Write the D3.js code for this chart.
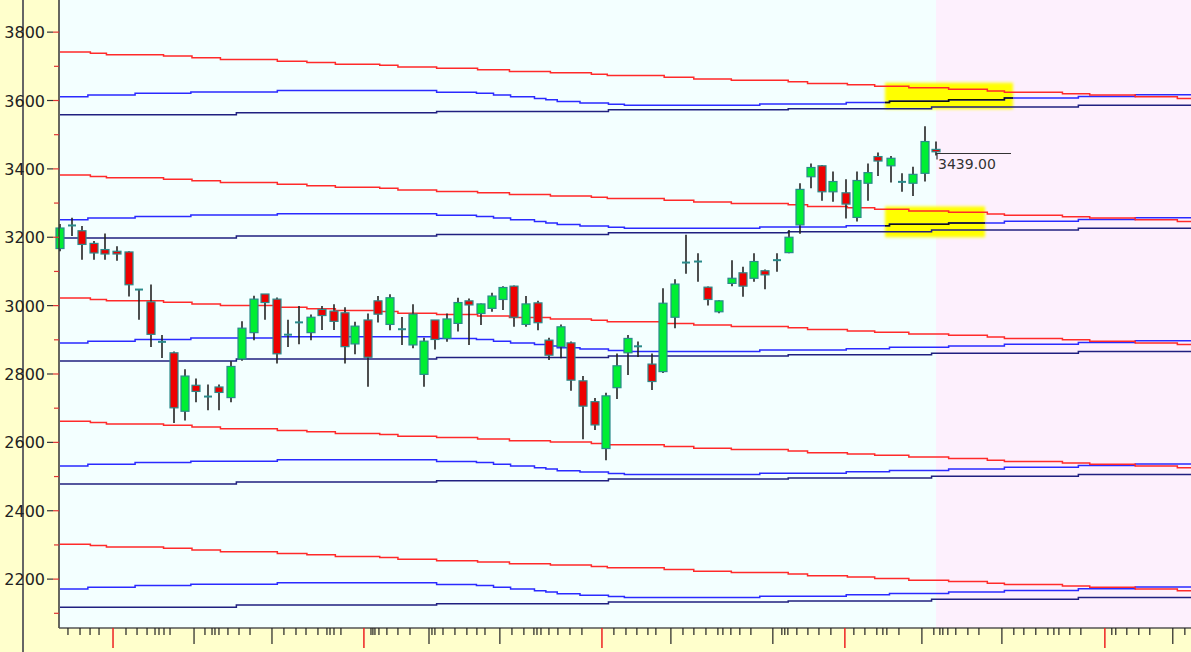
<!DOCTYPE html>
<html><head><meta charset="utf-8">
<script src="https://cdn.jsdelivr.net/npm/d3@7"></script>
<style>body{margin:0;background:#ffffcc}svg{display:block}</style>
</head><body><svg id="c" width="1191" height="652"></svg>
<script>
// candles: [open, high, low, close]
const candles = [
[3167,3239,3159,3227],[3233,3257,3204,3236],[3219,3233,3134,3179],[3182,3189,3134,3154],[3164,3211,3134,3151],
[3159,3174,3131,3151],[3157,3159,3027,3061],[3047,3047,2959,3047],[3011,3062,2879,2916],[2894,2914,2847,2894],
[2862,2866,2657,2701],[2691,2814,2664,2794],[2767,2787,2717,2749],[2734,2769,2694,2734],[2762,2769,2694,2746],
[2731,2837,2717,2822],[2844,2954,2839,2934],[2921,3029,2899,3019],[3034,3034,2959,3009],[3019,3024,2831,2859],
[2915,2959,2879,2915],[2951,2999,2887,2951],[2921,2974,2899,2966],[2989,2999,2929,2971],[2984,3004,2929,2954],
[2979,2995,2831,2880],[2888,2953,2858,2940],[2958,2977,2763,2849],[3014,3028,2951,2975],[2945,3033,2928,3023],
[2931,2967,2885,2931],[2885,3004,2875,2975],[2799,2906,2763,2896],[2958,2958,2872,2901],[2904,2977,2894,2961],
[2948,3023,2924,3009],[3014,3021,2885,3002],[2977,3006,2943,3005],[2992,3038,2982,3028],[3018,3057,2987,3053],
[3057,3059,2938,2966],[2945,3028,2938,3005],[3008,3014,2928,2950],[2899,2906,2841,2855],[2880,2945,2846,2938],
[2891,2895,2751,2782],[2780,2794,2609,2706],[2719,2730,2636,2651],[2582,2745,2548,2736],[2760,2860,2727,2824],
[2862,2914,2797,2904],[2882,2895,2850,2880],[2829,2860,2753,2778],[2807,3051,2803,3007],[2966,3077,2934,3063],
[3126,3207,3093,3126],[3129,3153,3070,3129],[3054,3056,3000,3018],[2982,3016,2978,3014],[3065,3133,3057,3080],
[3096,3114,3026,3057],[3080,3153,3070,3129],[3102,3106,3048,3090],[3133,3153,3099,3133],[3155,3221,3153,3200],
[3236,3358,3210,3340],[3377,3416,3343,3404],[3409,3411,3307,3333],[3333,3392,3304,3363],[3330,3370,3255,3297],
[3258,3392,3246,3366],[3358,3416,3307,3389],[3436,3448,3379,3423],[3409,3438,3360,3431],[3362,3387,3333,3362],
[3358,3406,3321,3384],[3387,3525,3363,3480],[3457,3480,3439,3450]
];
const candleX = [60,72,82,94,105,117,129,139,151,162,174,185,196,208,219,231,242,254,265,277,288,299,311,322,334,345,
355,368,378,390,402,413,424,435,447,458,469,481,492,503,514,526,538,549,561,571,583,595,606,617,628,638,
652,663,675,686,698,708,719,732,743,754,765,777,789,800,811,822,833,846,857,868,878,891,902,913,925,936];
const lastLabel = "3439.00", lastValue = 3445;
const yTicks = [2200,2400,2600,2800,3000,3200,3400,3600,3800];
const yMinor = [2100,2300,2500,2700,2900,3100,3300,3500,3700];
// band lines (top group), step breakpoints [slot, value]
const redLine = [[0,3742],[2.67,3738],[4.08,3734],[9.1,3730],[11.6,3725],[14.1,3720],[19.1,3715],[21.7,3711],[24.2,3706],[28.1,3703],[29.7,3698],[33.1,3694],[36.7,3690],[39.5,3685],[43.1,3681],[46.7,3677],[48.1,3673],[53.1,3668],[55.7,3663],[59,3659],[64,3655],[65.7,3650],[69.2,3646],[71.6,3642],[74.6,3637],[78.1,3633],[81.5,3628],[83,3624],[88.1,3620],[90.5,3616],[94.5,3611],[98.2,3606],[99.5,3606]];
const blueLine = [[0,3611],[2.45,3616],[6.6,3621],[11.5,3625],[19.1,3629],[33.1,3624],[36.6,3621],[38.1,3616],[39.6,3611],[41.7,3606],[42.7,3602],[43.7,3597],[45.7,3593],[48.2,3589],[49.6,3586],[61.5,3590],[69.1,3594],[72.9,3598],[78.1,3602],[83,3607],[89.5,3612],[94.5,3617],[99.5,3617]];
const navyLine = [[0,3558],[15.5,3564],[33.1,3568],[48.2,3573],[64,3576],[76.6,3581],[89.5,3586],[99.5,3586]];
const groupOffsets = [0,360,720,1080,1440];
const shortTicks = [0.7,1.76,2.64,3.43,5.8,6.77,7.65,8.35,8.7,9.14,9.67,12.74,13.36,13.62,13.97,14.76,15.73,16.7,19.68,20.74,21.62,22.67,23.46,23.73,24.08,24.69,27.33,27.5,27.68,28.03,28.73,29.7,30.76,32.69,32.95,33.66,34.71,35.76,36.64,37.35,39.72,40.77,41.65,41.92,42.27,42.97,43.76,44.82,45.87,48.68,49.74,50.7,51.67,52.37,54.75,55.71,56.77,57.82,58.26,58.96,59.75,60.72,63.44,63.7,63.97,64.76,65.73,66.7,67.75,69.77,70.74,71.79,72.32,72.67,73.73,76.8,77.33,77.59,78.03,78.73,79.79,80.76,83.83,84.71,85.76,86.82,87.35,87.79,88.75,89.72,92.44,92.79,93.76,94.81,95.78,98.86];
const longTicks = [11.78,18.63,32.43,38.66,53.69,62.65,75.75,82.78,97.8];
const redTicks = [4.66,26.71,47.63,68.98,91.83];

const svg = d3.select("#c");
const L=59, R=1191, T=0, B=628;
const x = d3.scaleLinear().domain([0,99.4]).range([60,1191]);
const y = d3.scaleLinear().domain([2057,3894]).range([628,0]);

svg.append("rect").attr("width",1191).attr("height",652).attr("fill","#ffffcc");
svg.append("line").attr("x1",23).attr("x2",23).attr("y1",0).attr("y2",652).attr("stroke","#334").attr("stroke-width",1.5);
svg.append("rect").attr("x",L).attr("y",T).attr("width",936-L).attr("height",B).attr("fill","#f3ffff");
svg.append("rect").attr("x",936).attr("y",T).attr("width",R-936).attr("height",B).attr("fill","#fdf0fd");

// yellow highlights
const hl = [[885,1013,3652,3575],[885,985,3290,3200]];
const defs = svg.append("defs");
const f = defs.append("filter").attr("id","blur"); f.append("feGaussianBlur").attr("stdDeviation",1.5);
hl.forEach((h,i)=>{
  svg.append("rect").attr("x",h[0]).attr("y",y(h[2])).attr("width",h[1]-h[0]).attr("height",y(h[3])-y(h[2]))
    .attr("fill","#ffff00").attr("filter","url(#blur)");
  defs.append("clipPath").attr("id","hc"+i).append("rect").attr("x",h[0]).attr("y",y(h[2])).attr("width",h[1]-h[0]).attr("height",y(h[3])-y(h[2]));
});

const line = d3.line().x(d=>x(d[0])).y(d=>y(d[1])).curve(d3.curveStepAfter);
const lines = [[navyLine,"#202080"],[blueLine,"#2a2aff"],[redLine,"#ff2a2a"]];
groupOffsets.forEach(off=>{
  lines.forEach(([arr,col])=>{
    const data = arr.map(d=>[d[0],d[1]-off]);
    svg.append("path").attr("d",line(data)).attr("fill","none").attr("stroke",col).attr("stroke-width",1.5);
  });
});
[[0,0],[1,360]].forEach(([i,off])=>{
  svg.append("path").attr("d",line(blueLine.map(d=>[d[0],d[1]-off]))).attr("fill","none")
    .attr("stroke","#111").attr("stroke-width",1.5).attr("clip-path","url(#hc"+i+")");
});

// candles
const g = svg.append("g");
candles.forEach((c,i)=>{
  const cx = candleX[i];
  const [o,h,l,cl] = c;
  g.append("line").attr("x1",cx).attr("x2",cx).attr("y1",y(h)).attr("y2",y(l)).attr("stroke","#222").attr("stroke-width",1.6);
  const top = y(Math.max(o,cl)), bot = y(Math.min(o,cl));
  if (bot-top < 2) {
    g.append("line").attr("x1",cx-4).attr("x2",cx+4).attr("y1",(top+bot)/2).attr("y2",(top+bot)/2).attr("stroke","#2a8a8a").attr("stroke-width",2);
  } else {
    g.append("rect").attr("x",cx-4).attr("y",top).attr("width",8).attr("height",bot-top)
      .attr("fill", cl>=o ? "#00ee33" : "#ee0000").attr("stroke","#2a8a8a").attr("stroke-width",1.2);
  }
});
// last price
svg.append("line").attr("x1",936).attr("x2",1011).attr("y1",y(lastValue)).attr("y2",y(lastValue)).attr("stroke","#333").attr("stroke-width",1.2);
svg.append("line").attr("x1",937).attr("x2",937).attr("y1",y(lastValue)).attr("y2",y(lastValue)+6).attr("stroke","#333").attr("stroke-width",1.2);
svg.append("text").attr("x",938).attr("y",y(lastValue)+16).text(lastLabel)
  .attr("font-family","DejaVu Sans, sans-serif").attr("font-size",14).attr("fill","#333");

// frame
svg.append("line").attr("x1",L).attr("x2",L).attr("y1",0).attr("y2",B).attr("stroke","#333").attr("stroke-width",1.5);
svg.append("line").attr("x1",L).attr("x2",R).attr("y1",B).attr("y2",B).attr("stroke","#555").attr("stroke-width",1.5);

// y axis
yTicks.forEach(v=>{
  svg.append("line").attr("x1",47).attr("x2",53).attr("y1",y(v)).attr("y2",y(v)).attr("stroke","#333").attr("stroke-width",1.2);
  svg.append("line").attr("x1",53).attr("x2",59).attr("y1",y(v)).attr("y2",y(v)).attr("stroke","#dd3333").attr("stroke-width",1.2);
  svg.append("text").attr("x",45).attr("y",y(v)+6).attr("text-anchor","end").text(v)
    .attr("font-family","DejaVu Sans, sans-serif").attr("font-size",16).attr("fill","#222");
});
yMinor.forEach(v=>{
  svg.append("line").attr("x1",54).attr("x2",59).attr("y1",y(v)).attr("y2",y(v)).attr("stroke","#dd3333").attr("stroke-width",1.2);
});
// x ticks
shortTicks.forEach(t=>svg.append("line").attr("x1",x(t)).attr("x2",x(t)).attr("y1",B).attr("y2",B+7).attr("stroke","#222").attr("stroke-width",1.2));
longTicks.forEach(t=>svg.append("line").attr("x1",x(t)).attr("x2",x(t)).attr("y1",B).attr("y2",B+16).attr("stroke","#222").attr("stroke-width",1.2));
redTicks.forEach(t=>svg.append("line").attr("x1",x(t)).attr("x2",x(t)).attr("y1",B).attr("y2",B+20).attr("stroke","#ee2222").attr("stroke-width",1.5));
</script></body></html>
